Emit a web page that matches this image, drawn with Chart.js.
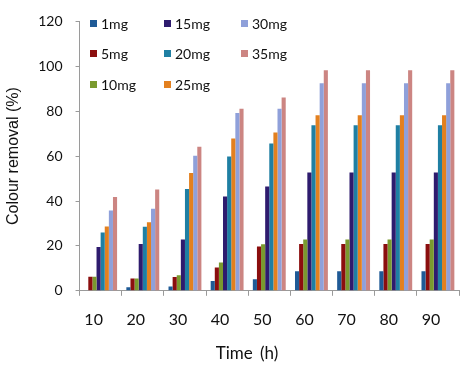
<!DOCTYPE html>
<html>
<head>
<meta charset="utf-8">
<title>Colour removal vs time</title>
<script src="https://cdn.jsdelivr.net/npm/chart.js@4.4.1/dist/chart.umd.min.js"></script>
<style>
  html, body { margin: 0; padding: 0; background: #fff; }
  #wrap { position: relative; width: 474px; height: 367px; }
  #legend {
    position: absolute; left: 90px; top: 8px;
    display: grid;
    grid-template-columns: 74px 77px 80px;
    grid-template-rows: repeat(3, 30.5px);
    grid-auto-flow: column;
    font: 14px Lato, sans-serif; color: #111;
  }
  #legend .item { display: flex; align-items: center; }
  #legend .sw { width: 7px; height: 7px; margin-right: 4px; }
  #xtitle {
    position: absolute; left: 187px; width: 120px; top: 342px;
    text-align: center; font: 17px Lato, sans-serif; color: #111; word-spacing: 3px;
  }
</style>
</head>
<body>
<div id="wrap">
  <canvas id="chart" width="474" height="367"></canvas>
  <div id="legend"></div>
  <div id="xtitle">Time (h)</div>
</div>
<script>
// time points (h)
const timeLabels = ['10', '20', '30', '40', '50', '60', '70', '80', '90'];

// colour removal (%) per adsorbent dose
const dose1mg  = [0, 1.6, 1.9, 4.4, 5.2, 8.7, 8.7, 8.7, 8.7];
const dose5mg  = [6.3, 5.5, 6.1, 10.4, 19.7, 20.9, 20.9, 20.9, 20.9];
const dose10mg = [6.3, 5.5, 6.9, 12.6, 20.7, 22.9, 22.9, 22.9, 22.9];
const dose15mg = [19.5, 20.9, 22.8, 42, 46.5, 52.7, 52.7, 52.7, 52.7];
const dose20mg = [26, 28.5, 45.4, 59.8, 65.6, 73.7, 73.7, 73.7, 73.7];
const dose25mg = [28.6, 30.5, 52.5, 67.8, 70.5, 78.2, 78.2, 78.2, 78.2];
const dose30mg = [35.8, 36.5, 60.2, 79.2, 81.1, 92.5, 92.5, 92.5, 92.5];
const dose35mg = [41.8, 45.1, 64.2, 81.1, 86.1, 98.2, 98.2, 98.2, 98.2];

const seriesNames = ['1mg', '5mg', '10mg', '15mg', '20mg', '25mg', '30mg', '35mg'];
const seriesData = [dose1mg, dose5mg, dose10mg, dose15mg, dose20mg, dose25mg, dose30mg, dose35mg];
const seriesColors = ['#1F5A96', '#8B0E0E', '#7A9A2E', '#2E1B6E', '#1F7FA3', '#E3801F', '#8FA0DA', '#CC8582'];

const datasets = seriesNames.map((name, i) => ({
    label: name,
    data: seriesData[i],
    backgroundColor: seriesColors[i],
    borderWidth: 0
}));

// legend drawn as html, three columns over the plot
const legendEl = document.getElementById('legend');
seriesNames.forEach((name, i) => {
    const item = document.createElement('div');
    item.className = 'item';
    item.innerHTML = '<span class="sw" style="background:' + seriesColors[i] + '"></span>' + name;
    legendEl.appendChild(item);
});

const axisGrey = '#9a9a9a';

new Chart(document.getElementById('chart'), {
    type: 'bar',
    data: { labels: timeLabels, datasets: datasets },
    options: {
        responsive: false,
        animation: false,
        layout: { padding: { left: 0, right: 15, top: 10, bottom: 24 } },
        datasets: { bar: { categoryPercentage: 0.78, barPercentage: 1.0 } },
        plugins: {
            legend: { display: false },
            tooltip: { enabled: false }
        },
        scales: {
            x: {
                grid: { drawOnChartArea: false, tickLength: 5, color: axisGrey, offset: true },
                border: { color: axisGrey },
                ticks: {
                    color: '#111',
                    font: { family: 'Lato', size: 16 },
                    padding: 14,
                    labelOffset: -7
                }
            },
            y: {
                min: 0,
                max: 120,
                ticks: {
                    stepSize: 20,
                    color: '#111',
                    font: { family: 'Lato', size: 14 },
                    padding: 13
                },
                grid: { drawOnChartArea: false, tickLength: 4, color: axisGrey },
                border: { color: axisGrey },
                title: {
                    display: true,
                    text: 'Colour removal (%)',
                    color: '#111',
                    font: { family: 'Liberation Sans', size: 16 },
                    padding: { top: 4, bottom: 2 }
                }
            }
        }
    }
});
</script>
</body>
</html>
